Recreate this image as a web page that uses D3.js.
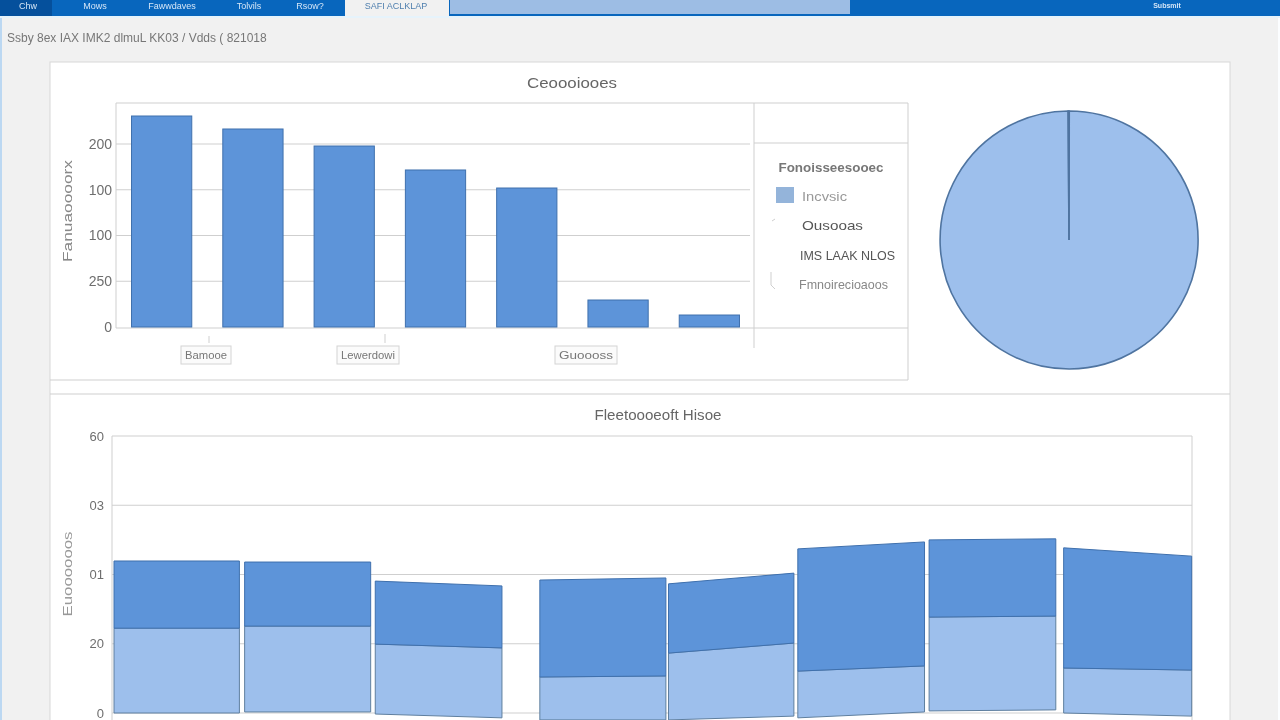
<!DOCTYPE html>
<html>
<head>
<meta charset="utf-8">
<script src="https://cdn.jsdelivr.net/npm/d3@7"></script>
<style>
  html, body { margin: 0; padding: 0; background: #f1f1f1; overflow: hidden; }
  svg { display: block; }
  text { font-family: "Liberation Sans", Arial, sans-serif; fill: #666; filter: blur(0.5px); }
  .axis path, .axis line { display: none; }
  .axis text { fill: #6e6e6e; }
  .rule { stroke: #cfcfcf; stroke-width: 1; fill: none; }
</style>
</head>
<body>
<div id="chart"></div>
<script>
// text
var navTabs = ["Chw", "Mows", "Fawwdaves", "Tolvils", "Rsow?"];
var activeTab = "SAFI ACLKLAP";
var pageTitle = "Ssby 8ex IAX IMK2 dlmuL KK03 / Vdds ( 821018";

// top bar chart
var barCategories = ["A", "B", "C", "D", "E", "F", "G"];
var barValues = [230.6, 216.4, 197.8, 171.6, 151.9, 29.5, 13.1];
var barTicks = [0, 50, 100, 150, 200];
var barTickLabels = ["0", "250", "100", "100", "200"];
var barCallouts = ["Bamooe", "Lewerdowi", "Guoooss"];
var legendLabels = ["Incvsic", "Ousooas", "IMS LAAK NLOS", "Fmnoirecioaoos"];

// pie
var pieValues = [99.9, 0.1];

// bottom stacked chart, every segment slopes so it has a left and a right value
var stackPeriods = [0, 1, 2, 3.26, 4.245, 5.235, 6.24, 7.27];
var stackSpans = [0.96, 0.965, 0.97, 0.965, 0.96, 0.97, 0.97, 0.98];
var baseLeft  = [0, 0.3, -0.3, -2, -2, -1.4, 0.6, 0];
var baseRight = [0, 0.3, -1.4, -2, -0.9, 0.3, 0.9, -0.9];
var midLeft   = [24.5, 25.1, 19.9, 10.4, 17.3, 12.1, 27.7, 13.0];
var midRight  = [24.5, 25.1, 18.8, 10.7, 20.2, 13.6, 28.0, 12.4];
var topLeft   = [43.9, 43.6, 38.1, 38.4, 37.3, 47.4, 50.0, 47.7];
var topRight  = [43.9, 43.6, 36.7, 39.0, 40.4, 49.4, 50.3, 45.3];
var stackTicks = [0, 20, 40, 60, 80];
var stackTickLabels = ["0", "20", "01", "03", "60"];

var darkBlue = "#5d94d9";
var darkStroke = "#3f70ad";
var lightBlue = "#9dbfec";
var lightStroke = "#5f7f9f";

var svg = d3.select("#chart").append("svg")
  .attr("width", 1280)
  .attr("height", 720);

// page frame and header
svg.append("rect").attr("x", 0).attr("y", 15).attr("width", 1280).attr("height", 705).attr("fill", "#f1f1f1");
svg.append("rect").attr("x", 0).attr("y", 15).attr("width", 2).attr("height", 705).attr("fill", "#bcd8f2");
svg.append("rect").attr("x", 1278).attr("y", 15).attr("width", 2).attr("height", 705).attr("fill", "#fbfdff");
svg.append("rect").attr("x", 0).attr("y", 16).attr("width", 1280).attr("height", 2).attr("fill", "#e6f3fb");
svg.append("rect").attr("x", 0).attr("y", 0).attr("width", 1280).attr("height", 16).attr("fill", "#0866bd");
svg.append("rect").attr("x", 0).attr("y", 0).attr("width", 52).attr("height", 16).attr("fill", "#05509c");
svg.append("rect").attr("x", 345).attr("y", 0).attr("width", 104).attr("height", 16).attr("fill", "#f1f1f1");
svg.append("rect").attr("x", 450).attr("y", 0).attr("width", 400).attr("height", 14).attr("fill", "#9dbde4");

var navX = [28, 95, 172, 249, 310];
svg.selectAll(".nav").data(navTabs).enter().append("text")
  .attr("x", (d, i) => navX[i])
  .attr("y", 9)
  .attr("text-anchor", "middle")
  .style("font-size", "9px")
  .style("fill", "#d5e6f7")
  .text(d => d);
svg.append("text").attr("x", 396).attr("y", 9).attr("text-anchor", "middle")
  .style("font-size", "9px").style("fill", "#4f7fae").text(activeTab);
svg.append("text").attr("x", 1167).attr("y", 8).attr("text-anchor", "middle")
  .style("font-size", "7px").style("font-weight", "bold").style("fill", "#d5e6f7").text("Subsmit");
svg.append("text").attr("x", 7).attr("y", 42)
  .style("font-size", "12px").style("fill", "#777").text(pageTitle);

// white card
svg.append("rect").attr("x", 50).attr("y", 62).attr("width", 1180).attr("height", 670)
  .attr("fill", "#fff").attr("stroke", "#d8d8d8");

// ---- bar chart
var barY = d3.scaleLinear().domain([0, 200]).range([327, 144]);
var barX = d3.scaleBand().domain(barCategories).range([116, 755]).paddingInner(0.34).paddingOuter(0.17);

svg.append("g").selectAll("line").data(barTicks.slice(1)).enter().append("line")
  .attr("class", "rule")
  .attr("x1", 116).attr("x2", 750)
  .attr("y1", d => barY(d)).attr("y2", d => barY(d));

var barFrame = svg.append("g");
barFrame.append("path").attr("class", "rule").attr("d", "M116,328V103H908V380H50");
barFrame.append("path").attr("class", "rule").attr("d", "M116,328H908");
barFrame.append("path").attr("class", "rule").attr("d", "M754,103V348");
barFrame.append("path").attr("class", "rule").attr("d", "M754,143H908");
barFrame.append("path").attr("class", "rule").attr("d", "M50,394H1230");

svg.append("g").selectAll("rect").data(barValues).enter().append("rect")
  .attr("x", (d, i) => barX(barCategories[i]))
  .attr("y", d => barY(d))
  .attr("width", barX.bandwidth())
  .attr("height", d => barY(0) - barY(d))
  .attr("fill", darkBlue)
  .attr("stroke", darkStroke);

svg.append("g").attr("class", "axis")
  .style("font-size", "14px")
  .attr("transform", "translate(116,0)")
  .call(d3.axisLeft(barY).tickValues(barTicks).tickFormat((d, i) => barTickLabels[i]).tickSize(0).tickPadding(4))
  .selectAll("text").style("font-size", "14px");

svg.append("text").attr("x", 572).attr("y", 88).attr("text-anchor", "middle")
  .attr("textLength", 90).attr("lengthAdjust", "spacingAndGlyphs")
  .style("font-size", "14px").text("Ceoooiooes");
svg.append("text").attr("transform", "translate(72,211) rotate(-90)").attr("text-anchor", "middle")
  .attr("textLength", 102).attr("lengthAdjust", "spacingAndGlyphs")
  .style("font-size", "13px").style("fill", "#888").text("Fanuaoooorx");

// labelled boxes under the bars
var calloutX = [206, 368, 586];
var calloutWidth = [50, 62, 62];
var callouts = svg.append("g").selectAll("g").data(barCallouts).enter().append("g")
  .attr("transform", (d, i) => `translate(${calloutX[i]},355)`);
callouts.append("rect").attr("x", (d, i) => -calloutWidth[i] / 2).attr("y", -9)
  .attr("width", (d, i) => calloutWidth[i]).attr("height", 18)
  .attr("fill", "#fbfbfb").attr("stroke", "#d4d4d4");
callouts.append("text").attr("y", 4).attr("text-anchor", "middle")
  .attr("textLength", (d, i) => calloutWidth[i] - 8).attr("lengthAdjust", "spacingAndGlyphs")
  .style("font-size", "11px").style("fill", "#777").text(d => d);

// little leader marks above the boxes
svg.append("path").attr("class", "rule").attr("d", "M209,336V343M385,334V343");

// legend
svg.append("text").attr("x", 831).attr("y", 172).attr("text-anchor", "middle")
  .attr("textLength", 105).attr("lengthAdjust", "spacingAndGlyphs")
  .style("font-size", "13px").style("font-weight", "bold").style("fill", "#777").text("Fonoisseesooec");
svg.append("rect").attr("x", 776).attr("y", 187).attr("width", 18).attr("height", 16).attr("fill", "#94b4da");
var legendX = [802, 802, 800, 799];
var legendBaseline = [201, 230, 260, 289];
var legendWidth = [45, 61, 95, 89];
var legendColor = ["#999", "#555", "#555", "#888"];
svg.selectAll(".legend-label").data(legendLabels).enter().append("text")
  .attr("x", (d, i) => legendX[i])
  .attr("y", (d, i) => legendBaseline[i])
  .attr("textLength", (d, i) => legendWidth[i]).attr("lengthAdjust", "spacingAndGlyphs")
  .style("font-size", "13px")
  .style("fill", (d, i) => legendColor[i])
  .text(d => d);
svg.append("path").attr("class", "rule").attr("d", "M771,272V285L775,289M772,221L775,219");

// ---- pie
var pieArc = d3.arc().innerRadius(0).outerRadius(129);
svg.append("g").attr("transform", "translate(1069,240)")
  .selectAll("path").data(d3.pie().sort(null).startAngle(0.002)(pieValues)).enter().append("path")
  .attr("d", pieArc)
  .attr("fill", lightBlue)
  .attr("stroke", "#4f74a0")
  .attr("stroke-width", 1.6);

// ---- stacked chart
var stackY = d3.scaleLinear().domain([0, 80]).range([713, 436]);
var stackX = d3.scaleLinear().domain([0, 8]).range([114, 1159]);

svg.append("g").selectAll("line").data(stackTicks.slice(1, 4)).enter().append("line")
  .attr("class", "rule")
  .attr("x1", 112).attr("x2", 1192)
  .attr("y1", d => stackY(d)).attr("y2", d => stackY(d));
svg.append("path").attr("class", "rule").attr("d", "M112,720V436H1192V720");
svg.append("path").attr("class", "rule").attr("d", "M112,713H1192");

function segmentPath(i, left, right, lowLeft, lowRight) {
  var x0 = stackX(stackPeriods[i]);
  var x1 = stackX(stackPeriods[i] + stackSpans[i]);
  return `M${x0},${stackY(left)}L${x1},${stackY(right)}L${x1},${stackY(lowRight)}L${x0},${stackY(lowLeft)}Z`;
}

var stacks = svg.append("g").selectAll("g").data(stackPeriods).enter().append("g");
stacks.append("path")
  .attr("d", (d, i) => segmentPath(i, midLeft[i], midRight[i], baseLeft[i], baseRight[i]))
  .attr("fill", lightBlue)
  .attr("stroke", lightStroke);
stacks.append("path")
  .attr("d", (d, i) => segmentPath(i, topLeft[i], topRight[i], midLeft[i], midRight[i]))
  .attr("fill", darkBlue)
  .attr("stroke", darkStroke);

svg.append("g").attr("class", "axis")
  .attr("transform", "translate(112,0)")
  .call(d3.axisLeft(stackY).tickValues(stackTicks).tickFormat((d, i) => stackTickLabels[i]).tickSize(0).tickPadding(8))
  .selectAll("text").style("font-size", "13px");

svg.append("text").attr("x", 658).attr("y", 420).attr("text-anchor", "middle")
  .attr("textLength", 127).attr("lengthAdjust", "spacingAndGlyphs")
  .style("font-size", "14px").text("Fleetoooeoft Hisoe");
svg.append("text").attr("transform", "translate(72,574) rotate(-90)").attr("text-anchor", "middle")
  .attr("textLength", 85).attr("lengthAdjust", "spacingAndGlyphs")
  .style("font-size", "12px").style("fill", "#999").text("Euoooooos");
</script>
</body>
</html>
